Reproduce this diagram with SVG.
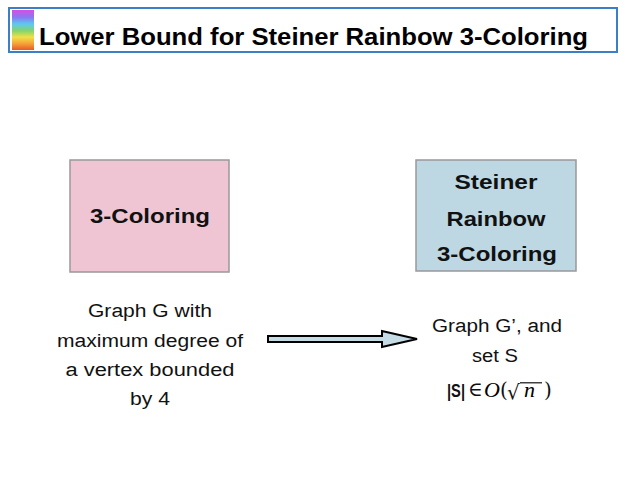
<svg xmlns="http://www.w3.org/2000/svg" width="638" height="479" viewBox="0 0 638 479">
<defs>
<linearGradient id="rainbow" x1="0" y1="0" x2="0" y2="1">
<stop offset="0" stop-color="#d64fe2"/>
<stop offset="0.18" stop-color="#8a78f0"/>
<stop offset="0.35" stop-color="#5cc8f2"/>
<stop offset="0.52" stop-color="#86d46a"/>
<stop offset="0.68" stop-color="#f2e04a"/>
<stop offset="0.84" stop-color="#f5a238"/>
<stop offset="1" stop-color="#e65a26"/>
</linearGradient>
<style>
.title{font-family:"Liberation Sans",Arial,sans-serif;font-weight:bold;font-size:23px;fill:#000}
.box{stroke:#999999;stroke-width:1.5}
.bt{font-family:"Liberation Sans",Arial,sans-serif;font-weight:bold;font-size:20px;fill:#111;text-anchor:middle}
.lt{font-family:"Liberation Sans",Arial,sans-serif;font-size:18px;fill:#111;text-anchor:middle}
.m{font-family:"DejaVu Serif","Liberation Serif",serif;font-size:20px;fill:#111}
.mi{font-family:"Liberation Serif","Times New Roman",serif;font-style:italic;font-size:22px}
</style>
</defs>
<rect width="638" height="479" fill="#ffffff"/>
<g id="title">
<rect x="9" y="8" width="608" height="44" fill="#ffffff" stroke="#3b7fc6" stroke-width="2"/>
<rect x="12" y="10" width="22" height="40" fill="url(#rainbow)"/>
<text class="title" x="39" y="45" textLength="549" lengthAdjust="spacingAndGlyphs">Lower Bound for Steiner Rainbow 3-Coloring</text>
</g>
<g id="node-3coloring">
<rect class="box" x="70" y="160" width="159" height="112" fill="#f0c5d3"/>
<text class="bt" x="150" y="223" textLength="120" lengthAdjust="spacingAndGlyphs">3-Coloring</text>
</g>
<g id="node-steiner">
<rect class="box" x="416" y="160" width="160" height="111" fill="#bdd7e3"/>
<text class="bt" x="496" y="189" textLength="83" lengthAdjust="spacingAndGlyphs">Steiner</text>
<text class="bt" x="496" y="226" textLength="99" lengthAdjust="spacingAndGlyphs">Rainbow</text>
<text class="bt" x="497" y="261" textLength="120" lengthAdjust="spacingAndGlyphs">3-Coloring</text>
</g>
<g id="label-left">
<text class="lt" x="150" y="317" textLength="124" lengthAdjust="spacingAndGlyphs">Graph G with</text>
<text class="lt" x="150" y="347" textLength="186" lengthAdjust="spacingAndGlyphs">maximum degree of</text>
<text class="lt" x="150" y="376" textLength="169" lengthAdjust="spacingAndGlyphs">a vertex bounded</text>
<text class="lt" x="150" y="405" textLength="40" lengthAdjust="spacingAndGlyphs">by 4</text>
</g>
<g id="label-right">
<text class="lt" x="497" y="332" textLength="130" lengthAdjust="spacingAndGlyphs">Graph G’, and</text>
<text class="lt" x="495" y="362" textLength="46" lengthAdjust="spacingAndGlyphs">set S</text>
<text class="lt" x="456" y="397" textLength="18" lengthAdjust="spacingAndGlyphs" font-weight="bold">|S|</text>
<text class="m" x="468" y="396" font-size="15">∈</text>
<text class="mi" x="484" y="397">O</text>
<text class="m" x="500" y="397">(</text>
<text class="m" x="507" y="399" font-size="22">√</text>
<line x1="520" y1="382.8" x2="542" y2="382.8" stroke="#111" stroke-width="1.2"/>
<text class="mi" x="524" y="397" font-size="24">n</text>
<text class="m" x="544" y="397">)</text>
</g>
<g id="connectors">
<path d="M268,336 L382,336 L382,331 L417,339 L382,347 L382,342 L268,342 Z" fill="#c5dce7" stroke="#000" stroke-width="2" stroke-linejoin="miter"/>
</g>
</svg>
